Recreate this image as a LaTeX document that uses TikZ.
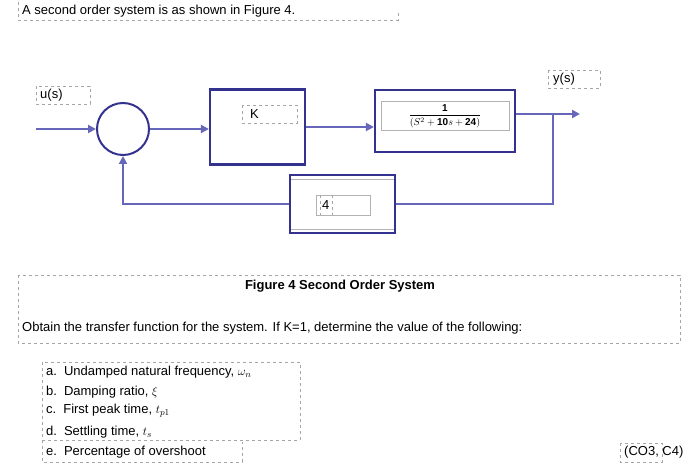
\documentclass[tikz,border=0pt]{standalone}
\usepackage{fontspec}
\setmainfont{Liberation Sans}
\usetikzlibrary{arrows.meta}
\begin{document}
\begin{tikzpicture}[x=1pt,y=-1pt,
  blk/.style={draw=blue!45!black!80,line width=2.2pt},
  wire/.style={draw=blue!55!black!60,line width=2pt},
  arr/.style={wire,-{Triangle[length=8pt,width=8pt]}},
  fld/.style={draw=gray!70,dashed,line width=0.5pt},
  txt/.style={font=\fontsize{13}{15}\selectfont,inner sep=0pt,anchor=west}]
\useasboundingbox (0,0) rectangle (700,470);
% title
\node[txt] (title) at (22,11) {A second order system is as shown in Figure 4.};
\draw[fld] (18,2) -- (18,20) -- (398,20) -- (398,12);
% blocks
\node[txt] (u) at (40,95) {u(s)};
\draw[fld] (36,86) rectangle (90,104);
\node[txt] (y) at (553,79) {y(s)};
\draw[fld] (548,70) rectangle (600,88);
\node[circle,draw=blue!45!black!80,line width=2pt,minimum size=52pt,inner sep=0pt] (sum) at (123,129) {};
\node[blk,minimum width=95pt,minimum height=75pt] (K) at (257.5,127) {};
\node[txt] (Kt) at (250,114) {K};
\draw[fld] (242,105) rectangle (297,123);
\node[blk,minimum width=140pt,minimum height=62pt] (G) at (445,121) {};
\draw[gray!60,line width=0.6pt] (381,101) rectangle (509,130);
\node[inner sep=0pt,font=\fontsize{10}{12}\selectfont] (Gt) at (445,116) {$\displaystyle\frac{\mathbf{1}}{(S^2+\mathbf{10}s+\mathbf{24})}$};
\node[blk,minimum width=105pt,minimum height=58pt] (H) at (342.5,204) {};
\draw[gray!60,line width=0.6pt] (291,179) -- (394,179) (291,229) -- (394,229);
\node[txt] (Ht) at (322,205) {4};
\draw[gray!60,line width=0.6pt] (316,195) rectangle (370,215);
\draw[fld] (320,195) -- (320,215) (332,195) -- (332,215);
% connectors
\coordinate (in) at (36,129);
\coordinate (out) at (580,114);
\coordinate (tap) at (553,114);
\coordinate (kg) at (0,127);
\draw[arr] (in) -- (sum.west);
\draw[arr] (sum.east) -- (K.west |- sum.east);
\draw[arr] (K.east |- kg) -- (G.west |- kg);
\draw[arr] (G.east |- out) -- (out);
\draw[wire] (tap) |- (H.east);
\draw[arr] (H.west) -| (sum.south);
% caption region
\draw[fld] (18,275) rectangle (680,343);
\node[font=\fontsize{13}{15}\selectfont\bfseries,inner sep=0pt] (cap) at (340,286) {Figure 4 Second Order System};
\node[txt] (ob) at (22,328) {Obtain the transfer function for the system. If K=1, determine the value of the following:};
\draw[fld] (42,389) -- (42,362) -- (300,362) -- (300,440) -- (42,440) -- (42,389);
\draw[fld] (42,440) -- (42,462) -- (242,462) -- (242,442);
\node[txt] (a) at (46,372) {a.\hspace{7pt}Undamped natural frequency, $\omega_n$};
\node[txt] (b) at (46,392) {b.\hspace{7pt}Damping ratio, $\xi$};
\node[txt] (c) at (46,411) {c.\hspace{7pt}First peak time, $t_{p1}$};
\node[txt] (d) at (46,432) {d.\hspace{7pt}Settling time, $t_s$};
\node[txt] (e) at (46,452) {e.\hspace{7pt}Percentage of overshoot};
\node[txt] (co) at (624,452) {(CO3, C4)};
\draw[fld] (620,443) rectangle (662,462);
\end{tikzpicture}
\end{document}
